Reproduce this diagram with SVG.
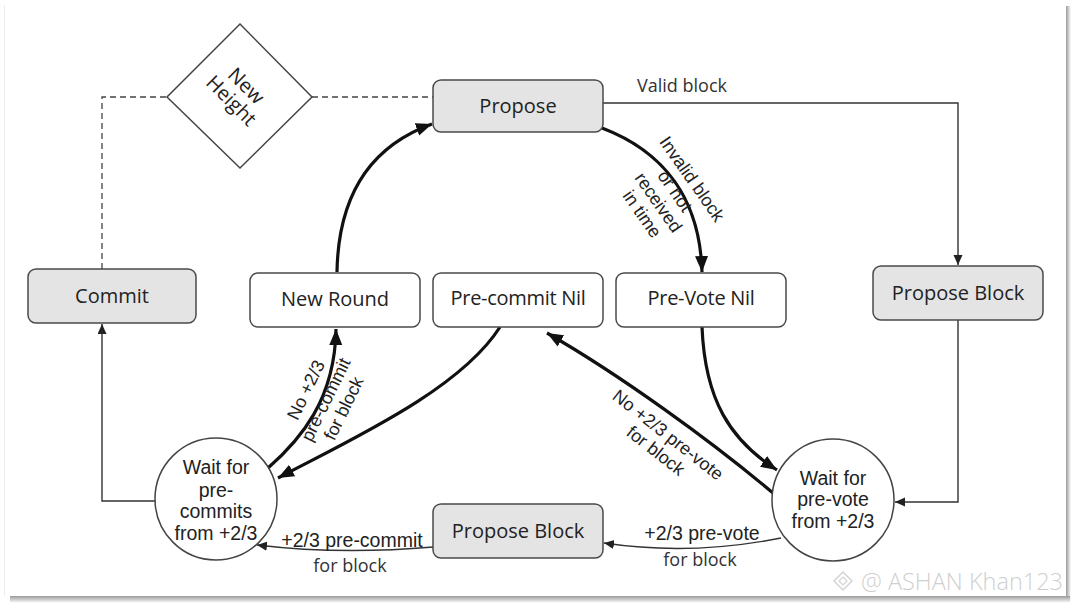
<svg xmlns="http://www.w3.org/2000/svg" width="1080" height="608" viewBox="0 0 1080 608">
<defs>
<marker id="ah" markerUnits="userSpaceOnUse" markerWidth="18" markerHeight="14" refX="16" refY="6.5" orient="auto"><path d="M0,0 L16,6.5 L0,13 z" fill="#111"/></marker>
<marker id="as" markerUnits="userSpaceOnUse" markerWidth="12" markerHeight="10" refX="10" refY="4.5" orient="auto"><path d="M0,0 L10,4.5 L0,9 z" fill="#222"/></marker>
<linearGradient id="shR" x1="0" x2="1" y1="0" y2="0"><stop offset="0" stop-color="#9a9a9a"/><stop offset="1" stop-color="#ffffff"/></linearGradient>
<linearGradient id="shB" x1="0" x2="0" y1="0" y2="1"><stop offset="0" stop-color="#9a9a9a"/><stop offset="1" stop-color="#ffffff"/></linearGradient>
</defs>
<style>
.box{stroke:#4a4a4a;stroke-width:1.5}
.g{fill:#e4e4e4}
.w{fill:#fff}
.nt{font-family:"Open Sans","Liberation Sans",sans-serif;font-size:20px;fill:#222;text-anchor:middle}
.et{font-family:"Liberation Sans",Arial,sans-serif;font-size:18px;fill:#222;text-anchor:middle}
.ct{font-family:"Liberation Sans",Arial,sans-serif;font-size:19.5px;fill:#222;text-anchor:middle}
.lt{font-family:"Open Sans","Liberation Sans",sans-serif;font-size:18px;fill:#333;text-anchor:middle}
.thick{fill:none;stroke:#111;stroke-width:3.2;marker-end:url(#ah)}
.thin{fill:none;stroke:#333;stroke-width:1.4;marker-end:url(#as)}
.dash{fill:none;stroke:#444;stroke-width:1.3;stroke-dasharray:6 4}
</style>
<rect width="1080" height="608" fill="#fff"/>
<rect x="1066" y="6" width="5" height="594" fill="url(#shR)"/>
<rect x="10" y="596" width="1060" height="7" fill="url(#shB)"/>
<line x1="4.5" y1="5" x2="4.5" y2="596" stroke="#ececec" stroke-width="1"/>

<g id="connectors">
<path class="dash" d="M102,269 V97 H167"/>
<path class="dash" d="M312,97 H433"/>
<path class="thin" d="M603,103 H958 V265"/>
<path class="thin" d="M958,320 V502 H895"/>
<path class="thin" d="M156,501 H102 V324"/>
<path class="thick" d="M602,128 C665,152 700,200 702,272"/>
<path class="thick" d="M337,272 C338,210 360,150 432,124"/>
<path class="thick" d="M702,327 C705,400 730,440 777,470"/>
<path class="thick" d="M773,493 C710,440 620,375 547,333"/>
<path class="thick" d="M500,327 C460,390 350,440 278,478"/>
<path class="thick" d="M268,468 C300,440 335,400 336,329"/>
<path class="thin" d="M781,538 Q690,556 604,543"/>
<path class="thin" d="M433,547 Q340,555 257,545"/>
<text class="lt" x="682" y="92">Valid block</text>
<g transform="translate(692,179) rotate(55)"><text class="et" x="0" y="6">Invalid block</text><text class="et" x="0" y="27">or not</text><text class="et" x="0" y="47">received</text><text class="et" x="0" y="67">in time</text></g>
<g transform="translate(306,390) rotate(-64)"><text class="et" x="0" y="6">No +2/3</text><text class="et" x="0" y="28">pre-commit</text><text class="et" x="0" y="48">for block</text></g>
<g transform="translate(668,435) rotate(38)"><text class="et" x="0" y="6">No +2/3 pre-vote</text><text class="et" x="0" y="26">for block</text></g>
<text class="ct" x="352" y="547">+2/3 pre-commit</text>
<text class="lt" x="350" y="572">for block</text>
<text class="ct" x="702" y="540">+2/3 pre-vote</text>
<text class="lt" x="700" y="566">for block</text>
</g>

<g id="new-height">
<polygon points="240,24 312,97 240,168 167,97" fill="#fff" stroke="#444" stroke-width="1.5"/>
<g transform="translate(238.5,93.5) rotate(45)"><text class="nt" x="0" y="-4" font-size="18">New</text><text class="nt" x="0" y="17" font-size="18">Height</text></g>
</g>
<g id="propose"><rect class="box g" x="433" y="80" width="170" height="52" rx="8"/><text class="nt" x="518" y="113">Propose</text></g>
<g id="commit"><rect class="box g" x="28" y="269" width="168" height="54" rx="8"/><text class="nt" x="112" y="303">Commit</text></g>
<g id="new-round"><rect class="box w" x="250" y="273" width="170" height="54" rx="8"/><text class="nt" x="335" y="306" font-size="17.5">New Round</text></g>
<g id="pre-commit-nil"><rect class="box w" x="433" y="273" width="170" height="54" rx="8"/><text class="nt" x="518" y="305" font-size="17.5" letter-spacing="-0.3">Pre-commit Nil</text></g>
<g id="pre-vote-nil"><rect class="box w" x="616" y="273" width="170" height="54" rx="8"/><text class="nt" x="701" y="305" font-size="17.5" letter-spacing="-0.3">Pre-Vote Nil</text></g>
<g id="propose-block-right"><rect class="box g" x="873" y="266" width="170" height="54" rx="8"/><text class="nt" x="958" y="300">Propose Block</text></g>
<g id="propose-block-bottom"><rect class="box g" x="433" y="504" width="170" height="54" rx="8"/><text class="nt" x="518" y="538">Propose Block</text></g>
<g id="wait-precommits"><circle cx="216" cy="499" r="61" fill="#fff" stroke="#444" stroke-width="1.5"/>
<text class="ct" x="216" y="474">Wait for</text><text class="ct" x="216" y="497">pre-</text><text class="ct" x="216" y="518">commits</text><text class="ct" x="216" y="540">from +2/3</text></g>
<g id="wait-prevote"><circle cx="833" cy="500" r="61" fill="#fff" stroke="#444" stroke-width="1.5"/>
<text class="ct" x="833" y="485">Wait for</text><text class="ct" x="833" y="506">pre-vote</text><text class="ct" x="833" y="528">from +2/3</text></g>

<g id="watermark">
<polygon points="843,572 852,581 843,590 834,581" fill="none" stroke="#d4d4d4" stroke-width="1.5"/>
<polygon points="843,577 847,581 843,585 839,581" fill="none" stroke="#d4d4d4" stroke-width="1.2"/>
<text x="861" y="590" font-family="'Open Sans','Liberation Sans',sans-serif" font-size="23.5" font-weight="300" fill="#cfcfcf">@ ASHAN Khan123</text>
</g>
</svg>
